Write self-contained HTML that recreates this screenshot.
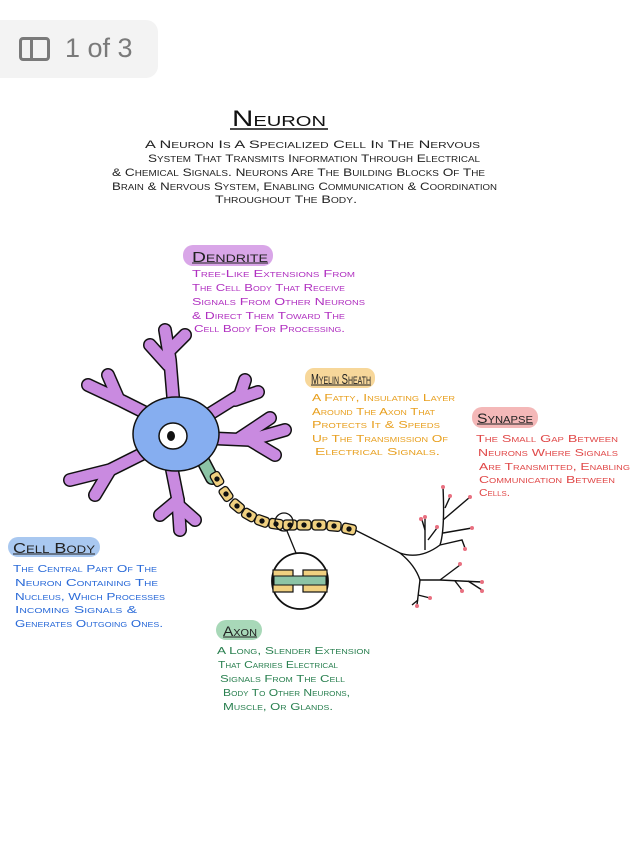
<!DOCTYPE html>
<html><head><meta charset="utf-8"><style>
html,body{margin:0;padding:0;background:#fff;}
body{width:640px;height:841px;position:relative;overflow:hidden;font-family:"Liberation Sans",sans-serif;}
.badge{position:absolute;left:0;top:20px;width:158px;height:58px;background:#f3f3f3;border-radius:0 12px 12px 0;}
.badge span{position:absolute;left:65px;top:13px;font-size:27px;color:#7a7a7a;}
.ic{position:absolute;left:19px;top:17px;width:31px;height:24px;border:3px solid #7a7a7a;border-radius:4px;box-sizing:border-box;}
.ic:after{content:"";position:absolute;left:8px;top:0;width:3px;height:18px;background:#7a7a7a;}
svg text{font-family:"Liberation Sans",sans-serif;font-variant:small-caps;}
</style></head><body>
<div class="badge"><div class="ic"></div><span>1 of 3</span></div>
<svg width="640" height="841" style="position:absolute;left:0;top:0" xmlns="http://www.w3.org/2000/svg">
<text x="232" y="126" font-size="22" fill="#111" textLength="94" lengthAdjust="spacingAndGlyphs">Neuron</text>
<line x1="230" y1="129" x2="328" y2="129" stroke="#111" stroke-width="1.5"/>
<g font-size="11" fill="#222">
<text x="145" y="148" textLength="335" lengthAdjust="spacingAndGlyphs">A Neuron Is A Specialized Cell In The Nervous</text>
<text x="148" y="162" textLength="332" lengthAdjust="spacingAndGlyphs">System That Transmits Information Through Electrical</text>
<text x="112" y="176" textLength="373" lengthAdjust="spacingAndGlyphs">&amp; Chemical Signals. Neurons Are The Building Blocks Of The</text>
<text x="112" y="190" textLength="385" lengthAdjust="spacingAndGlyphs">Brain &amp; Nervous System, Enabling Communication &amp; Coordination</text>
<text x="215" y="203" textLength="142" lengthAdjust="spacingAndGlyphs">Throughout The Body.</text>
</g>
<rect x="183" y="245" width="90" height="21" rx="10" fill="#d9a6e8"/>
<text x="192" y="262" font-size="15" fill="#222" textLength="76" lengthAdjust="spacingAndGlyphs">Dendrite</text>
<line x1="192" y1="263" x2="268" y2="263" stroke="#222"/>
<rect x="305" y="368" width="70" height="20" rx="9" fill="#f7d79a"/>
<text x="311" y="384" font-size="15" fill="#222" textLength="60" lengthAdjust="spacingAndGlyphs">Myelin Sheath</text>
<line x1="311" y1="385" x2="371" y2="385" stroke="#222"/>
<rect x="472" y="407" width="66" height="21" rx="10" fill="#f4b8b8"/>
<text x="477" y="423" font-size="14" fill="#222" textLength="56" lengthAdjust="spacingAndGlyphs">Synapse</text>
<line x1="477" y1="424" x2="533" y2="424" stroke="#222"/>
<rect x="8" y="537" width="92" height="20" rx="10" fill="#a9c8f0"/>
<text x="13" y="553" font-size="15" fill="#222" textLength="82" lengthAdjust="spacingAndGlyphs">Cell Body</text>
<line x1="13" y1="554" x2="95" y2="554" stroke="#222"/>
<rect x="216" y="620" width="46" height="20" rx="10" fill="#a8d8b8"/>
<text x="223" y="636" font-size="14" fill="#222" textLength="34" lengthAdjust="spacingAndGlyphs">Axon</text>
<line x1="223" y1="637" x2="257" y2="637" stroke="#222"/>
<g font-size="10.5" fill="#b030c0">
<text x="192" y="277" textLength="163" lengthAdjust="spacingAndGlyphs">Tree-Like Extensions From</text>
<text x="192" y="291" textLength="153" lengthAdjust="spacingAndGlyphs">The Cell Body That Receive</text>
<text x="192" y="305" textLength="173" lengthAdjust="spacingAndGlyphs">Signals From Other Neurons</text>
<text x="192" y="319" textLength="153" lengthAdjust="spacingAndGlyphs">&amp; Direct Them Toward The</text>
<text x="194" y="332" textLength="151" lengthAdjust="spacingAndGlyphs">Cell Body For Processing.</text>
</g>
<g font-size="10.5" fill="#e8a020">
<text x="312" y="401" textLength="143" lengthAdjust="spacingAndGlyphs">A Fatty, Insulating Layer</text>
<text x="312" y="415" textLength="123" lengthAdjust="spacingAndGlyphs">Around The Axon That</text>
<text x="312" y="428" textLength="128" lengthAdjust="spacingAndGlyphs">Protects It &amp; Speeds</text>
<text x="312" y="442" textLength="136" lengthAdjust="spacingAndGlyphs">Up The Transmission Of</text>
<text x="315" y="455" textLength="125" lengthAdjust="spacingAndGlyphs">Electrical Signals.</text>
</g>
<g font-size="10.5" fill="#e04848">
<text x="476" y="442" textLength="142" lengthAdjust="spacingAndGlyphs">The Small Gap Between</text>
<text x="478" y="456" textLength="140" lengthAdjust="spacingAndGlyphs">Neurons Where Signals</text>
<text x="479" y="470" textLength="151" lengthAdjust="spacingAndGlyphs">Are Transmitted, Enabling</text>
<text x="479" y="483" textLength="136" lengthAdjust="spacingAndGlyphs">Communication Between</text>
<text x="479" y="496" textLength="31" lengthAdjust="spacingAndGlyphs">Cells.</text>
</g>
<g font-size="10.5" fill="#2a6ad8">
<text x="13" y="572" textLength="144" lengthAdjust="spacingAndGlyphs">The Central Part Of The</text>
<text x="15" y="586" textLength="143" lengthAdjust="spacingAndGlyphs">Neuron Containing The</text>
<text x="15" y="600" textLength="150" lengthAdjust="spacingAndGlyphs">Nucleus, Which Processes</text>
<text x="15" y="613" textLength="122" lengthAdjust="spacingAndGlyphs">Incoming Signals &amp;</text>
<text x="15" y="627" textLength="148" lengthAdjust="spacingAndGlyphs">Generates Outgoing Ones.</text>
</g>
<g font-size="10.5" fill="#2a8050">
<text x="217" y="654" textLength="153" lengthAdjust="spacingAndGlyphs">A Long, Slender Extension</text>
<text x="218" y="668" textLength="120" lengthAdjust="spacingAndGlyphs">That Carries Electrical</text>
<text x="220" y="682" textLength="125" lengthAdjust="spacingAndGlyphs">Signals From The Cell</text>
<text x="223" y="696" textLength="127" lengthAdjust="spacingAndGlyphs">Body To Other Neurons,</text>
<text x="223" y="710" textLength="110" lengthAdjust="spacingAndGlyphs">Muscle, Or Glands.</text>
</g>
<g fill="none" stroke="#111" stroke-width="1.4">
<path d="M355 530 Q385 545 400 553 Q420 560 440 545 Q445 530 443 487"/>
<path d="M443 520 L470 497"/><path d="M445 508 L450 497"/><path d="M443 533 L472 528"/><path d="M440 545 L462 540 L465 548"/>
<path d="M425 550 L425 518"/><path d="M428 540 L437 528"/><path d="M425 530 L422 520"/>
<path d="M400 553 Q415 565 420 580 L440 580 L482 582"/><path d="M440 580 L460 565"/><path d="M455 581 L462 590"/><path d="M468 581 L482 590"/>
<path d="M420 580 L417 605"/><path d="M418 595 L430 598"/><path d="M418 600 L412 605"/>
</g>
<g fill="#e87080">
<circle cx="443" cy="487" r="2"/><circle cx="470" cy="497" r="2"/><circle cx="450" cy="496" r="2"/><circle cx="472" cy="528" r="2"/><circle cx="465" cy="549" r="2"/><circle cx="425" cy="517" r="2"/><circle cx="437" cy="527" r="2"/><circle cx="421" cy="519" r="2"/><circle cx="482" cy="582" r="2"/><circle cx="460" cy="564" r="2"/><circle cx="462" cy="591" r="2"/><circle cx="482" cy="591" r="2"/><circle cx="417" cy="606" r="2"/><circle cx="430" cy="598" r="2"/>
</g>
<g stroke-linecap="round" stroke-linejoin="round" fill="none">
<g stroke="#111" stroke-width="14">
<path d="M175 420 L170 360 L165 330"/><path d="M168 365 L150 345"/><path d="M170 350 L185 335"/>
<path d="M150 415 L120 400 L88 385"/><path d="M118 398 L108 375"/>
<path d="M150 450 L110 470 L70 480"/><path d="M110 470 L95 495"/>
<path d="M170 460 L178 500 L180 530"/><path d="M178 500 L160 515"/><path d="M178 505 L195 520"/>
<path d="M200 420 L240 395 L245 380"/><path d="M235 400 L258 392"/>
<path d="M205 438 L250 440 L285 430"/><path d="M250 440 L275 455"/><path d="M240 438 L270 418"/>
<path d="M200 455 L212 478"/>
</g>
<g stroke="#c98ae0" stroke-width="11">
<path d="M175 420 L170 360 L165 330"/><path d="M168 365 L150 345"/><path d="M170 350 L185 335"/>
<path d="M150 415 L120 400 L88 385"/><path d="M118 398 L108 375"/>
<path d="M150 450 L110 470 L70 480"/><path d="M110 470 L95 495"/>
<path d="M170 460 L178 500 L180 530"/><path d="M178 500 L160 515"/><path d="M178 505 L195 520"/>
<path d="M200 420 L240 395 L245 380"/><path d="M235 400 L258 392"/>
<path d="M205 438 L250 440 L285 430"/><path d="M250 440 L275 455"/><path d="M240 438 L270 418"/>
</g>
<path d="M200 455 L212 478" stroke="#8cc4a6" stroke-width="11"/>
</g>
<ellipse cx="176" cy="434" rx="43" ry="37" fill="#86aef0" stroke="#111" stroke-width="1.5"/>
<ellipse cx="173" cy="436" rx="14" ry="13" fill="#fff" stroke="#111" stroke-width="1.5"/>
<ellipse cx="171" cy="436" rx="4" ry="5" fill="#111"/>
<g fill="#f0d080" stroke="#111" stroke-width="1.3">
<g transform="translate(217,479) rotate(60)"><rect x="-7" y="-5" width="14" height="10" rx="3"/><circle r="2" fill="#111"/></g>
<g transform="translate(226,494) rotate(55)"><rect x="-7" y="-5" width="14" height="10" rx="3"/><circle r="2" fill="#111"/></g>
<g transform="translate(237,506) rotate(40)"><rect x="-7" y="-5" width="14" height="10" rx="3"/><circle r="2" fill="#111"/></g>
<g transform="translate(249,515) rotate(30)"><rect x="-7" y="-5" width="14" height="10" rx="3"/><circle r="2" fill="#111"/></g>
<g transform="translate(262,521) rotate(20)"><rect x="-7" y="-5" width="14" height="10" rx="3"/><circle r="2" fill="#111"/></g>
<g transform="translate(276,524) rotate(8)"><rect x="-7" y="-5" width="14" height="10" rx="3"/><circle r="2" fill="#111"/></g>
<g transform="translate(290,525)"><rect x="-7" y="-5" width="14" height="10" rx="3"/><circle r="2" fill="#111"/></g>
<g transform="translate(304,525)"><rect x="-7" y="-5" width="14" height="10" rx="3"/><circle r="2" fill="#111"/></g>
<g transform="translate(319,525)"><rect x="-7" y="-5" width="14" height="10" rx="3"/><circle r="2" fill="#111"/></g>
<g transform="translate(334,526) rotate(5)"><rect x="-7" y="-5" width="14" height="10" rx="3"/><circle r="2" fill="#111"/></g>
<g transform="translate(349,529) rotate(12)"><rect x="-7" y="-5" width="14" height="10" rx="3"/><circle r="2" fill="#111"/></g>
</g>
<circle cx="284" cy="522" r="9" fill="none" stroke="#111" stroke-width="1.3"/>
<line x1="287" y1="531" x2="296" y2="553" stroke="#111" stroke-width="1.3"/>
<circle cx="300" cy="581" r="28" fill="#fff" stroke="#111" stroke-width="1.8"/>
<rect x="273" y="570" width="20" height="22" fill="#f0d080" stroke="#111" stroke-width="1.2"/>
<rect x="303" y="570" width="24" height="22" fill="#f0d080" stroke="#111" stroke-width="1.2"/>
<rect x="274" y="576" width="52" height="9" fill="#8cc4a6" stroke="#111" stroke-width="1"/>
</svg>
</body></html>
